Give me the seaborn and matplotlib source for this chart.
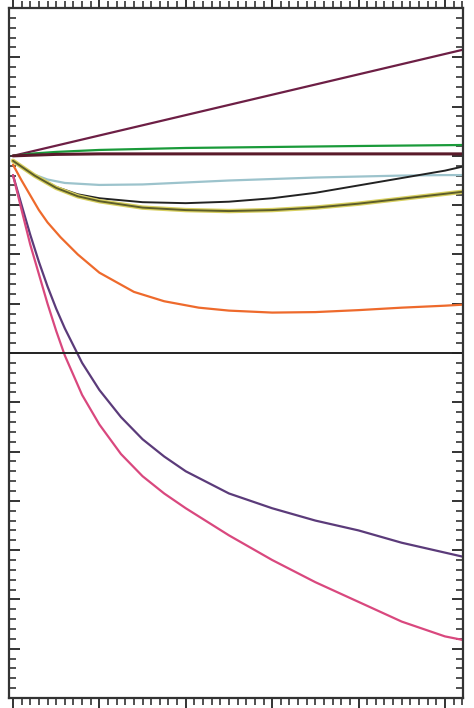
import numpy as np
import pandas as pd
import matplotlib
matplotlib.use("Agg")
import matplotlib.pyplot as plt
import seaborn as sns
from matplotlib.ticker import MultipleLocator

# values, one (x, y) list pair per curve
rising_x = [0, 5.2]
rising_y = [0, 2.15]
green_x = [0, 0.25, 0.5, 1, 2, 3, 4, 5.2]
green_y = [0, 0.05, 0.08, 0.12, 0.16, 0.18, 0.2, 0.22]
flat_x = [0, 0.5, 1, 5.2]
flat_y = [0, 0.03, 0.04, 0.04]
blue_x = [0, 0.2, 0.4, 0.6, 1.0, 1.5, 2.0, 2.5, 3.0, 3.5, 4.0, 4.5, 5.0, 5.2]
blue_y = [-0.1, -0.35, -0.48, -0.55, -0.59, -0.58, -0.54, -0.5, -0.47, -0.44, -0.42, -0.4, -0.39, -0.39]
curve_x = [0, 0.25, 0.5, 0.75, 1.0, 1.5, 2.0, 2.5, 3.0, 3.5, 4.0, 4.5, 5.0, 5.2]
black_y = [-0.1, -0.4, -0.63, -0.78, -0.86, -0.94, -0.96, -0.93, -0.86, -0.75, -0.6, -0.45, -0.3, -0.22]
olive_y = [-0.1, -0.4, -0.65, -0.82, -0.92, -1.05, -1.1, -1.12, -1.1, -1.05, -0.97, -0.87, -0.77, -0.73]
orange_x = [0, 0.1, 0.2, 0.3, 0.4, 0.55, 0.75, 1.0, 1.4, 1.75, 2.15, 2.5, 3.0, 3.5, 4.0, 4.5, 5.0, 5.2]
orange_y = [-0.18, -0.5, -0.8, -1.1, -1.35, -1.65, -2.0, -2.37, -2.76, -2.95, -3.08, -3.14,
            -3.18, -3.17, -3.13, -3.08, -3.04, -3.02]
decay_x = [0, 0.1, 0.2, 0.3, 0.4, 0.5, 0.6, 0.8, 1.0, 1.25, 1.5, 1.75, 2.0, 2.5, 3.0, 3.5, 4.0, 4.5, 5.0, 5.2]
purple_y = [-0.39, -1.0, -1.6, -2.15, -2.65, -3.1, -3.5, -4.2, -4.75, -5.3, -5.75, -6.1, -6.4,
            -6.85, -7.15, -7.4, -7.6, -7.85, -8.05, -8.13]
pink_y = [-0.39, -1.1, -1.8, -2.4, -3.0, -3.55, -4.05, -4.85, -5.45, -6.05, -6.5, -6.85, -7.15,
          -7.7, -8.2, -8.65, -9.05, -9.45, -9.75, -9.82]
hline_y = -4

sns.set_style("white")
fig = plt.figure(figsize=(4.74, 7.08), dpi=100)
ax = fig.add_axes([9 / 474, 10 / 708, 454 / 474, 690 / 708])

series = [
    (rising_x, rising_y, "#6d1f45", 1.6),
    (green_x, green_y, "#1a9a3a", 1.6),
    (blue_x, blue_y, "#9cc3cc", 1.6),
    (curve_x, black_y, "#222222", 1.4),
    (curve_x, olive_y, "#d8d060", 3.2),
    (curve_x, olive_y, "#5d5d2a", 1.4),
    (orange_x, orange_y, "#ee6a2c", 1.6),
    (decay_x, purple_y, "#5b3b7a", 1.6),
    (decay_x, pink_y, "#d9487e", 1.6),
    (flat_x, flat_y, "#5a1a2a", 2.2),
]
for xs, ys, col, lw in series:
    sns.lineplot(x=xs, y=ys, color=col, lw=lw, ax=ax, estimator=None, sort=False)

ax.axhline(hline_y, color="#222222", lw=1.4)

ax.set_xlim(-0.046, 5.209)
ax.set_ylim(-11, 3)
ax.xaxis.set_major_locator(MultipleLocator(1))
ax.xaxis.set_minor_locator(MultipleLocator(0.1))
ax.yaxis.set_major_locator(MultipleLocator(1))
ax.yaxis.set_minor_locator(MultipleLocator(0.2))
ax.tick_params(axis="x", which="both", direction="out", top=True, bottom=True,
               labelbottom=False, color="#333333")
ax.tick_params(axis="y", which="both", direction="in", left=True, right=True,
               labelleft=False, color="#333333")
ax.tick_params(which="major", length=8, width=1.4)
ax.tick_params(which="minor", length=5, width=1.2)
for s in ax.spines.values():
    s.set_color("#333333")
    s.set_linewidth(1.6)

fig.savefig("out.png", dpi=100)
